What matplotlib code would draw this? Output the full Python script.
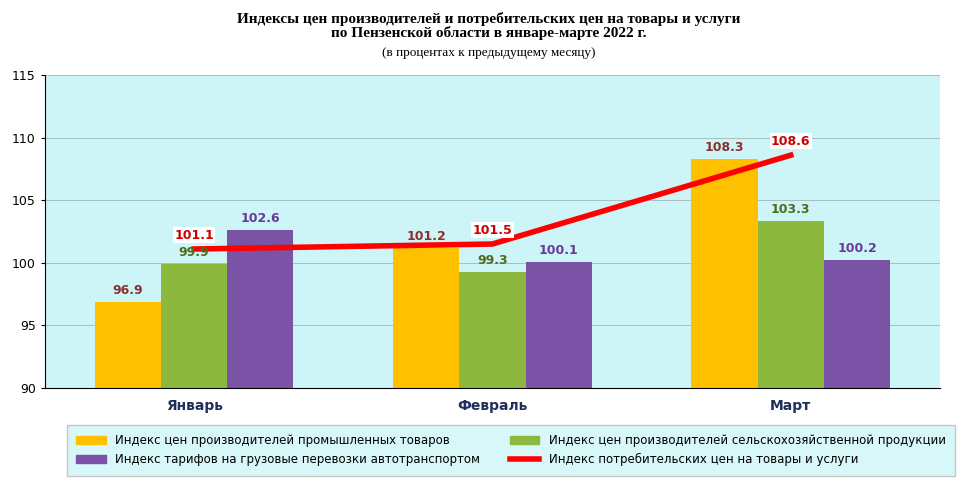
import matplotlib
matplotlib.use("Agg")
import matplotlib.pyplot as plt
import numpy as np
from matplotlib.lines import Line2D
from matplotlib.patches import Patch

months = ["Январь", "Февраль", "Март"]
industrial = [96.9, 101.2, 108.3]
agri = [99.9, 99.3, 103.3]
freight = [102.6, 100.1, 100.2]
cpi = [101.1, 101.5, 108.6]
yticks = [90, 95, 100, 105, 110, 115]

fig = plt.figure(figsize=(9.77, 4.91), dpi=100)
ax = fig.add_axes([0.046, 0.21, 0.916, 0.637])
ax.set_facecolor("#cdf5f8")
x = np.arange(3)
w = 0.222
cols = ["#ffc000", "#8db83e", "#7a52a6"]
lcols = ["#8b3030", "#4f6b1e", "#6a3a9a"]
for i, (vals, c, lc) in enumerate(zip([industrial, agri, freight], cols, lcols)):
    pos = x + (i - 1) * w
    ax.bar(pos, [v - 90 for v in vals], w, bottom=90, color=c, edgecolor="none", zorder=2)
    for p, v in zip(pos, vals):
        ax.text(p, v + 0.4, f"{v}", ha="center", va="bottom", fontsize=9, color=lc, fontweight="bold", zorder=4)
ax.plot(x, cpi, color="#ff0000", lw=4, zorder=3)
for xi, v in zip(x, cpi):
    ax.text(xi, v + 0.6, f"{v}", ha="center", va="bottom", fontsize=9, color="#cc0000", fontweight="bold",
            bbox=dict(facecolor="white", edgecolor="none", pad=1), zorder=5)
ax.set_xlim(-0.5, 2.5)
ax.set_ylim(90, 115)
ax.set_yticks(yticks)
ax.tick_params(axis="y", labelsize=9, length=3)
ax.set_xticks(x)
ax.set_xticklabels(months, fontsize=10, fontweight="bold", color="#1f2f5a")
ax.tick_params(axis="x", length=0, pad=8)
ax.grid(axis="y", color="#9aa", lw=0.5, zorder=0)
for s in ["top", "right"]:
    ax.spines[s].set_visible(False)

fig.text(0.5, 0.975, "Индексы цен производителей и потребительских цен на товары и услуги\nпо Пензенской области в январе-марте 2022 г.",
         ha="center", va="top", fontsize=11, fontweight="bold", family="Liberation Serif", linespacing=1.0)
fig.text(0.5, 0.905, "(в процентах к предыдущему месяцу)", ha="center", va="top", fontsize=9.5, family="Liberation Serif")

handles = [Patch(color=cols[0]), Patch(color=cols[1]), Patch(color=cols[2]), Line2D([], [], color="#ff0000", lw=4)]
labels = ["Индекс цен производителей промышленных товаров", "Индекс цен производителей сельскохозяйственной продукции",
          "Индекс тарифов на грузовые перевозки автотранспортом", "Индекс потребительских цен на товары и услуги"]
order = [0, 2, 1, 3]
leg = fig.legend([handles[i] for i in order], [labels[i] for i in order], ncol=2, loc="center",
                 bbox_to_anchor=(0.523, 0.083), fontsize=8.5, frameon=True, fancybox=False,
                 columnspacing=2.5, handlelength=2.5, borderpad=0.8)
leg.get_frame().set_facecolor("#cdf5f8")
leg.get_frame().set_edgecolor("#bbbbbb")
fig.savefig("out.png", dpi=100)
